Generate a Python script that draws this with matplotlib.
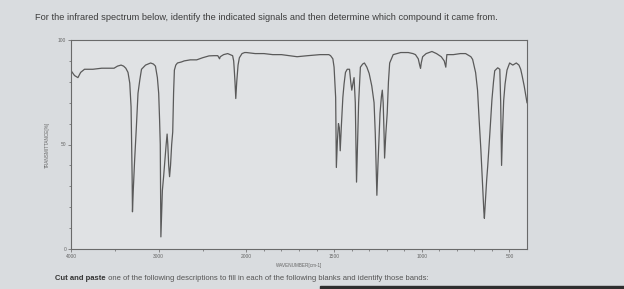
import matplotlib
matplotlib.use("Agg")
import matplotlib.pyplot as plt
from matplotlib.patches import Rectangle
import numpy as np

# spectrum: wavenumber (cm-1) and transmittance (%)
wavenumber = [4000, 3994, 3960, 3921, 3890, 3846, 3750, 3650, 3560, 3509, 3470, 3429,
              3400, 3375, 3350, 3330, 3315, 3307, 3303, 3299, 3290, 3275, 3255, 3236,
              3215, 3196, 3150, 3092, 3060, 3037, 3015, 3000, 2990, 2982, 2978, 2975,
              2968, 2958, 2944, 2930, 2915, 2904, 2896, 2886, 2876, 2865, 2852, 2840,
              2830, 2821, 2805, 2786, 2740, 2709, 2640, 2567, 2500, 2426, 2370, 2326,
              2312, 2306, 2298, 2260, 2213, 2185, 2157, 2145, 2140, 2130, 2121, 2110,
              2095, 2080, 2050, 2020, 2000,
              1950, 1900, 1850, 1800, 1711, 1650, 1580, 1530, 1520, 1507, 1500, 1491,
              1487, 1481, 1475, 1470, 1465, 1459, 1450, 1443, 1435, 1425, 1412, 1405,
              1399, 1393, 1386, 1379, 1375, 1372, 1367, 1360, 1350, 1337, 1327, 1313,
              1300, 1285, 1272, 1265, 1256, 1250, 1243, 1238, 1230, 1225, 1220, 1215,
              1212, 1205, 1197, 1190, 1183, 1163, 1120, 1077, 1050, 1036, 1020, 1012,
              1007, 1003, 995, 975, 942, 916, 889, 872, 866, 863, 860, 857,
              820, 780, 750, 720, 710, 693, 682, 673, 663, 653, 646, 643,
              636, 630, 624, 612, 600, 591, 584, 567, 555, 550, 547, 545,
              540, 533, 525, 514, 499, 481, 461, 446, 436, 428, 416, 404,
              400]
transmittance = [85, 85, 83, 82, 84.5, 86, 86, 86.5, 86.5, 86.5, 87.5, 88,
                 87.5, 86.5, 84.5, 79.4, 68, 47, 34.6, 17.8, 28, 42, 58, 74.5,
                 81, 86, 88, 89, 88.5, 87.5, 82, 74.5, 62, 50, 27, 5.8,
                 15, 28, 34.6, 42, 50, 55, 50, 40, 34.6, 40, 50, 56,
                 75, 85.6, 88, 89, 89.5, 90, 90.5, 90.5, 91.5, 92.4, 92.5, 92.5,
                 91.5, 91, 92, 93, 93.5, 93, 92.5, 90, 87, 80, 72, 80,
                 88, 91.5, 93.5, 94, 94,
                 93.5, 93.5, 93, 93, 92, 92.5, 93, 93, 92.5, 91, 87, 72.5,
                 39, 52, 60, 58, 47, 58, 72.5, 79, 84.5, 86, 86, 80,
                 76, 79, 82, 70, 50, 32, 48, 70, 87, 88.5, 89, 87,
                 84, 78, 70, 55, 25.7, 40, 55, 65, 73, 76, 70, 55,
                 43.5, 55, 65, 80, 89, 93, 94, 94, 93.5, 93, 91, 88,
                 86.4, 89, 92, 93.5, 94.5, 93.5, 92, 90, 88, 87, 90, 93,
                 93, 93.5, 93.5, 92, 90.7, 84.4, 76, 62, 47.5, 30, 18, 14.7,
                 25, 33, 39.6, 55, 71.4, 80, 85.3, 86.7, 86, 70, 50, 40,
                 55, 71, 79, 85.6, 89, 88, 89, 88, 86, 83, 78, 72,
                 70]

x_ticks = [4000, 3000, 2000, 1500, 1000, 500]
y_ticks = [0, 50, 100]

title_text = ("For the infrared spectrum below, identify the indicated signals "
              "and then determine which compound it came from.")
bottom_bold = "Cut and paste"
bottom_rest = (" one of the following descriptions to fill in each of the "
               "following blanks and identify those bands:")


# IR charts switch to double scale below 2000 cm-1
def fwd(w):
    w = np.asarray(w, dtype=float)
    return np.where(w >= 2000, (w - 2000) / 1000.0, (w - 2000) / 500.0)


def inv(u):
    u = np.asarray(u, dtype=float)
    return np.where(u >= 0, 2000 + 1000.0 * u, 2000 + 500.0 * u)


plt.rcParams['font.family'] = ['Liberation Sans', 'DejaVu Sans']

W, H = 624, 289
fig = plt.figure(figsize=(W / 100, H / 100), dpi=100, facecolor='#d9dcdf')
ax = fig.add_axes([71 / W, 1 - 249 / H, (527 - 71) / W, (249 - 40) / H])
ax.set_facecolor('#e0e2e4')

ax.plot(wavenumber, transmittance, color='#5a5a5a', lw=0.9)

ax.set_xscale('function', functions=(fwd, inv))
ax.set_xlim(4000, 400)
ax.set_ylim(0, 100)

ax.set_xticks(x_ticks)
ax.set_xticklabels([str(t) for t in x_ticks])
ax.set_xticks([3500, 2500] + list(range(1900, 400, -100)), minor=True)
ax.set_yticks(y_ticks)
ax.set_yticklabels([str(t) for t in y_ticks])
ax.set_yticks(range(10, 100, 10), minor=True)

ax.tick_params(which='both', direction='out', colors='#777777', labelsize=3.5,
               labelcolor='#666666', width=0.6)
ax.tick_params(which='major', length=2.5, pad=1)
ax.tick_params(which='minor', length=1.5)
for s in ax.spines.values():
    s.set_color('#6a6a6a')
    s.set_linewidth(0.8)

ax.set_xlabel('WAVENUMBER[cm-1]', fontsize=3.3, color='#666666', labelpad=3)
ax.set_ylabel('TRANSMITTANCE[%]', fontsize=3.3, color='#666666', labelpad=6)

fig.text(35 / W, 1 - 18 / H, title_text, fontsize=6.65, color='#3d3d3d',
         va='center', ha='left')

t1 = fig.text(55 / W, 1 - 279 / H, bottom_bold, fontsize=5.5, color='#333333',
              va='center', ha='left', fontweight='bold')
fig.canvas.draw()
bb = t1.get_window_extent()
fig.text(bb.x1 / W, 1 - 279 / H, bottom_rest, fontsize=5.5, color='#555555',
         va='center', ha='left')

# dark edge of the photographed screen along the bottom
fig.patches.append(Rectangle((320 / W, 0), 1 - 320 / W, 3 / H,
                             transform=fig.transFigure, color='#2e2e2e',
                             zorder=0))

fig.savefig('out.png', dpi=100, facecolor=fig.get_facecolor())
